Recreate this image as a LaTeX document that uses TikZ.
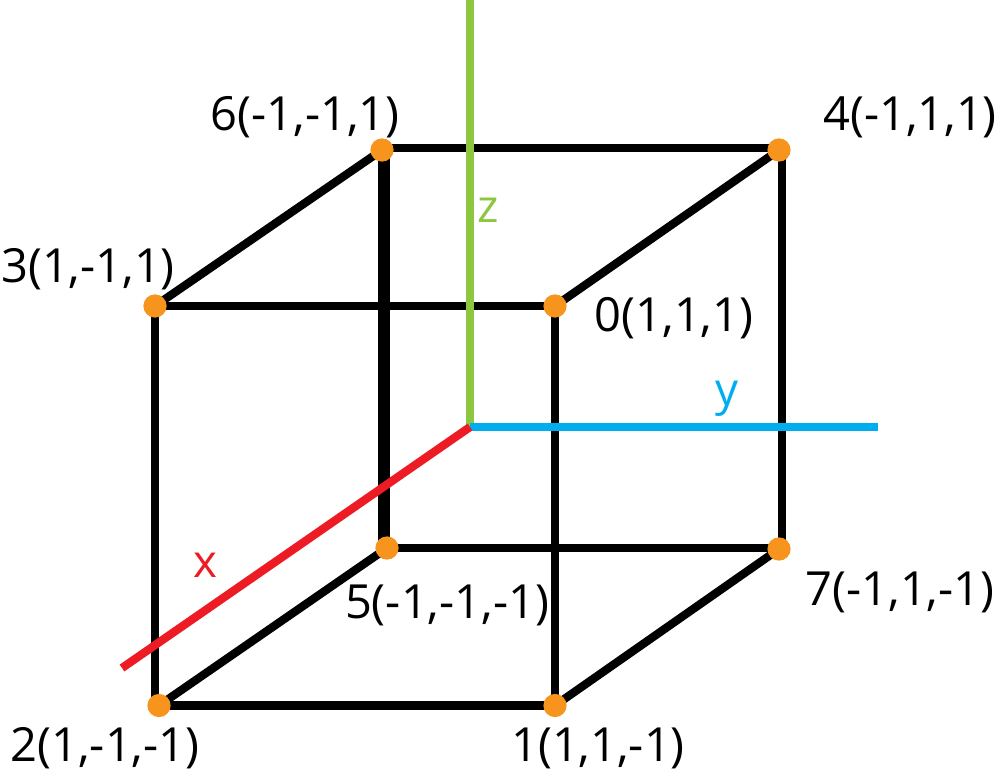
\documentclass[tikz,border=0pt]{standalone}
\usepackage{fontspec}
\setmainfont{Open Sans}
\usepackage{xcolor}
\usetikzlibrary{backgrounds}
\definecolor{vertexorange}{RGB}{247,148,30}
\definecolor{axisred}{RGB}{237,28,36}
\definecolor{axisgreen}{RGB}{141,198,63}
\definecolor{axisblue}{RGB}{0,174,239}
\tikzset{
  vertex/.style={circle, fill=vertexorange, inner sep=0pt, minimum size=0.59cm},
  edge/.style={line width=0.21cm, black},
  thickedge/.style={line width=0.28cm, black},
  axis/.style={line width=0.21cm},
  vlabel/.style={font=\fontsize{34}{34}\selectfont, inner sep=0pt, text=black},
  alabel/.style={font=\fontsize{33}{33}\selectfont, inner sep=0pt}
}
\begin{document}
\begin{tikzpicture}[x=0.0254cm, y=-0.0254cm]
\useasboundingbox (0,0) rectangle (1000,778);

\node[vertex] (v0) at (555,306) {};
\node[vertex] (v1) at (555,705.5) {};
\node[vertex] (v2) at (159,705.5) {};
\node[vertex] (v3) at (155,306) {};
\node[vertex] (v4) at (779,150) {};
\node[vertex] (v5) at (387,548) {};
\node[vertex] (v6) at (382,150) {};
\node[vertex] (v7) at (779,549) {};

\coordinate (o) at (470,427);
\coordinate (ztop) at (470,0);
\coordinate (yend) at (878,427);
\coordinate (xend) at (122,668);
\coordinate (c5) at (384,548);
\coordinate (c6) at (384,150);
\coordinate (c4) at (782,150);
\coordinate (c7) at (782,548);
\coordinate (c2) at (155,705);
\coordinate (t6) at (382,148);
\coordinate (t4) at (779,148);

\begin{scope}[on background layer]
\draw[edge] (v3.center) -- (v0.center) -- (v1.center) -- (v2.center);
\draw[edge] (v3.center) -- (c2);
\draw[edge] (t6) -- (t4);
\draw[edge] (v5.center) -- (v7.center |- v5.center);
\draw[thickedge] (c6) -- (c5);
\draw[edge] (c4) -- (c7);
\draw[edge] (v3.center) -- (v6.center);
\draw[edge] (v0.center) -- (v4.center);
\draw[edge] (v1.center) -- (v7.center);
\draw[edge] (v2.center) -- (v5.center);
\end{scope}

\draw[axis, axisgreen] (o) -- (ztop);
\draw[axis, axisblue] (o) -- (yend);
\draw[axis, axisred] (o) -- (xend);

\node[vlabel] (l0) at (674,318) {0(1,1,1)};
\node[vlabel] (l1) at (598,748) {1(1,1,-1)};
\node[vlabel] (l2) at (105,748) {2(1,-1,-1)};
\node[vlabel] (l3) at (88,269) {3(1,-1,1)};
\node[vlabel] (l4) at (910,117) {4(-1,1,1)};
\node[vlabel] (l5) at (447,605) {5(-1,-1,-1)};
\node[vlabel] (l6) at (305,117) {6(-1,-1,1)};
\node[vlabel] (l7) at (900,592) {7(-1,1,-1)};
\node[alabel, text=axisred] (lx) at (205,565) {x};
\node[alabel, text=axisblue] (ly) at (727,399) {y};
\node[alabel, text=axisgreen] (lz) at (488,210) {z};

\end{tikzpicture}
\end{document}
